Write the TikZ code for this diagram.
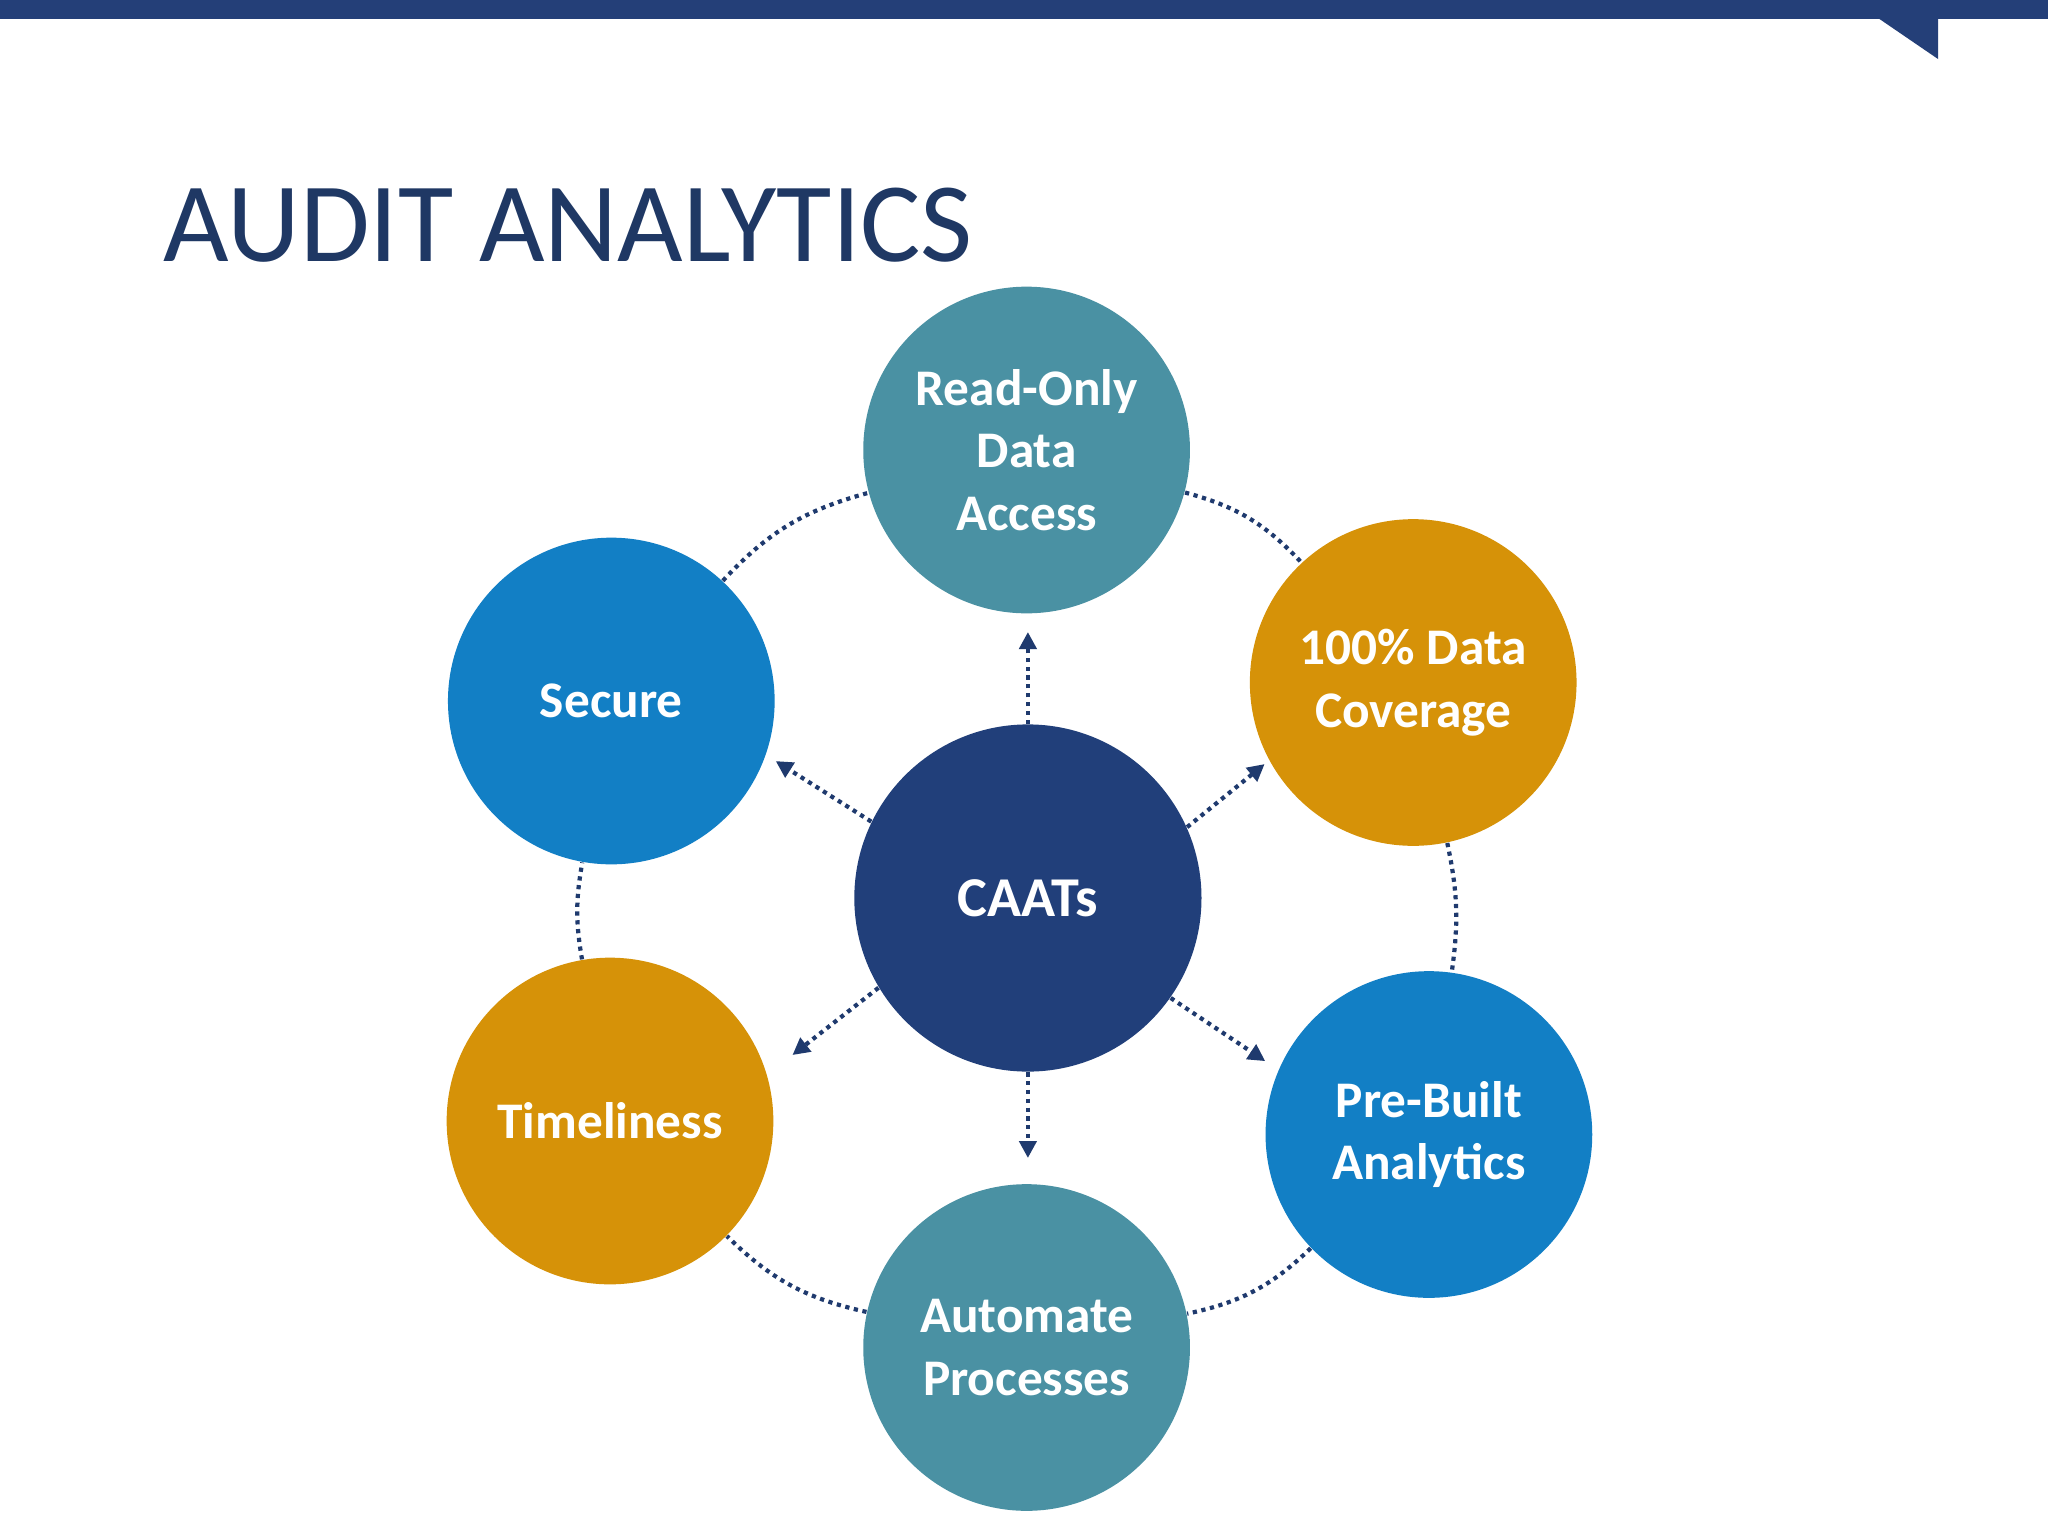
\documentclass[tikz,border=0pt]{standalone}
\usepackage{fontspec}
\setmainfont{Carlito}
\usetikzlibrary{arrows.meta}
\definecolor{barblue}{HTML}{243F78}
\definecolor{titleblue}{HTML}{1F3864}
\definecolor{navy}{HTML}{213F7A}
\definecolor{dotblue}{HTML}{1F3A6E}
\definecolor{tealc}{HTML}{4A91A3}
\definecolor{orangec}{HTML}{D69208}
\definecolor{bluec}{HTML}{127FC5}
\tikzset{
  bubble/.style={circle, minimum size=3.265cm, inner sep=0pt, text=white, align=center,
    font=\bfseries\fontsize{14.6}{17.8}\selectfont},
  hub/.style={circle, minimum size=3.47cm, inner sep=0pt, fill=navy, text=white,
    font=\bfseries\fontsize{16}{19}\selectfont},
  dotline/.style={draw=dotblue, line width=0.042cm, dash pattern=on 0.042cm off 0.046cm},
  spoke/.style={dotline, -{Triangle[length=0.17cm,width=0.17cm]}},
}
\begin{document}
\begin{tikzpicture}[x=0.01cm,y=0.01cm]
\useasboundingbox (0,0) rectangle (2048,-1536);
\fill[white] (0,0) rectangle (2048,-1536);
% top bar
\fill[barblue] (0,0) rectangle (2048,-19);
\fill[barblue] (1878,-18) -- (1938,-18) -- (1938,-59) -- cycle;
% title
\node[anchor=base west, inner sep=0pt, text=titleblue, font=\fontsize{32.2}{38}\selectfont]
  (title) at (163,-261) {AUDIT ANALYTICS};
% nodes
\node[bubble, fill=tealc]   (ro) at (1026.6,-450)    {Read-Only\\Data\\Access};
\node[bubble, fill=orangec] (dc) at (1413.2,-682.5)  {100\% Data\\Coverage};
\node[bubble, fill=bluec]   (pb) at (1428.9,-1134.5) {Pre-Built\\Analytics};
\node[bubble, fill=tealc]   (ap) at (1026.6,-1347.5) {Automate\\Processes};
\node[bubble, fill=orangec] (tl) at (610,-1121)      {Timeliness};
\node[bubble, fill=bluec]   (se) at (611.3,-701)     {Secure};
\node[hub] (caats) at (1027.9,-898) {CAATs};
% ring arcs
\draw[dotline] (ro) to[bend left=16] (dc);
\draw[dotline] (dc) to[bend left=10] (pb);
\draw[dotline] (pb) to[bend left=16] (ap);
\draw[dotline] (ap) to[bend left=16] (tl);
\draw[dotline] (tl) to[bend left=10] (se);
\draw[dotline] (se) to[bend left=16] (ro);
% spoke tips
\path (caats.center) ++(90:266)    coordinate (t-ro);
\path (caats.center) ++(29.5:272)  coordinate (t-dc);
\path (caats.center) ++(-34.5:288) coordinate (t-pb);
\path (caats.center) ++(-90:260)   coordinate (t-ap);
\path (caats.center) ++(213.7:283) coordinate (t-tl);
\path (caats.center) ++(151.5:287) coordinate (t-se);
% spokes
\draw[spoke] (caats.90)    -- (t-ro);
\draw[spoke] (caats.24.5)  -- (t-dc);
\draw[spoke] (caats.-35)   -- (t-pb);
\draw[spoke] (caats.-90)   -- (t-ap);
\draw[spoke] (caats.211)   -- (t-tl);
\draw[spoke] (caats.154.2) -- (t-se);
\end{tikzpicture}
\end{document}
